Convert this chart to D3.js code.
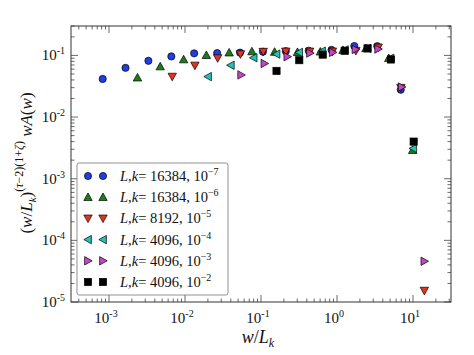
<!DOCTYPE html>
<html><head><meta charset="utf-8">
<script src="https://cdn.jsdelivr.net/npm/d3@7/dist/d3.min.js"></script>
<style>body{margin:0;background:#fff}svg{display:block}text{font-family:"Liberation Serif","DejaVu Serif",serif;fill:#111}</style>
</head><body><svg id="c" width="474" height="355"></svg>
<script>
// ---- data ----
const seriesLabels = ["16384, 10", "16384, 10", "8192, 10", "4096, 10", "4096, 10", "4096, 10"];
const seriesExp = ["−7", "−6", "−5", "−4", "−3", "−2"];
const xTickExps = [-3, -2, -1, 0, 1];
const yTickExps = [-5, -4, -3, -2, -1];

const blueX = [8.26e-4, 1.65e-3, 3.30e-3, 6.61e-3, 1.32e-2, 2.65e-2, 5.30e-2, 0.106, 0.212, 0.424, 0.847, 1.69, 3.39, 6.9];
const blueY = [0.0415, 0.0628, 0.0818, 0.0964, 0.108, 0.109, 0.111, 0.115, 0.117, 0.119, 0.123, 0.142, 0.141, 0.0277];
const greenX = [2.37e-3, 4.72e-3, 9.59e-3, 1.91e-2, 3.81e-2, 7.59e-2, 0.151, 0.302, 0.603, 1.20, 2.40, 4.79, 9.9];
const greenY = [0.0436, 0.0661, 0.0859, 0.101, 0.111, 0.116, 0.114, 0.113, 0.115, 0.122, 0.130, 0.090, 0.00291];
const redX = [6.79e-3, 1.35e-2, 2.69e-2, 5.36e-2, 0.107, 0.212, 0.437, 0.871, 1.77, 3.48, 6.92, 14.1];
const redY = [0.0453, 0.0686, 0.0904, 0.105, 0.115, 0.116, 0.116, 0.116, 0.119, 0.135, 0.0299, 1.53e-5];
const cyanX = [2.01e-2, 4.01e-2, 8.0e-2, 0.160, 0.318, 0.635, 1.27, 2.53, 5.05, 10.07];
const cyanY = [0.0453, 0.0693, 0.0916, 0.105, 0.112, 0.117, 0.123, 0.130, 0.090, 0.0031];
const magentaX = [5.48e-2, 0.111, 0.222, 0.441, 0.879, 1.75, 3.48, 7.10, 14.1];
const magentaY = [0.0483, 0.0740, 0.0953, 0.109, 0.112, 0.125, 0.127, 0.0307, 4.58e-5];
const blackX = [0.160, 0.319, 0.649, 1.26, 2.52, 5.13, 10.2];
const blackY = [0.0561, 0.0837, 0.103, 0.119, 0.130, 0.0859, 0.0040];

const series = [
  {x: blueX, y: blueY, color: "#1f3ee6", shape: "circle"},
  {x: greenX, y: greenY, color: "#1b7d1b", shape: "up"},
  {x: redX, y: redY, color: "#e8321e", shape: "down"},
  {x: cyanX, y: cyanY, color: "#22c2b4", shape: "left"},
  {x: magentaX, y: magentaY, color: "#c545c8", shape: "right"},
  {x: blackX, y: blackY, color: "#000000", shape: "square"}
];

// ---- layout ----
const L = 71, R = 451, T = 26, B = 302;
const svg = d3.select("#c");
const x = d3.scaleLog().domain([Math.pow(10, -3.5), Math.pow(10, 1.5)]).range([L, R]);
const y = d3.scaleLog().domain([1e-5, 0.3]).range([B, T]);

function expText(e) { return e < 0 ? "-" + Math.abs(e) : String(e); }

// ticks (inward, all sides)
function minorTicks(scale) {
  const [a, b] = scale.domain();
  const out = [];
  for (let e = Math.floor(Math.log10(a)); e <= Math.ceil(Math.log10(b)); e++) {
    for (let m = 1; m <= 9; m++) {
      const v = m * Math.pow(10, e);
      if (v >= a * 0.9999 && v <= b * 1.0001) out.push({v, major: m === 1});
    }
  }
  return out;
}
const tg = svg.append("g").attr("stroke", "#444").attr("stroke-width", 0.8);
minorTicks(x).forEach(t => {
  const px = x(t.v), len = t.major ? 7 : 3.5;
  tg.append("line").attr("x1", px).attr("x2", px).attr("y1", B).attr("y2", B - len);
  tg.append("line").attr("x1", px).attr("x2", px).attr("y1", T).attr("y2", T + len);
});
minorTicks(y).forEach(t => {
  const py = y(t.v), len = t.major ? 7 : 3.5;
  tg.append("line").attr("y1", py).attr("y2", py).attr("x1", L).attr("x2", L + len);
  tg.append("line").attr("y1", py).attr("y2", py).attr("x1", R).attr("x2", R - len);
});
svg.append("rect").attr("x", L).attr("y", T).attr("width", R - L).attr("height", B - T)
  .attr("fill", "none").attr("stroke", "#333").attr("stroke-width", 1);

// tick labels
xTickExps.forEach(e => {
  const t = svg.append("text").attr("x", x(Math.pow(10, e)) - 3).attr("y", 323)
    .attr("text-anchor", "middle").attr("font-size", 15);
  t.append("tspan").text("10");
  t.append("tspan").attr("font-size", 10).attr("dy", -6).text(expText(e));
});
yTickExps.forEach(e => {
  const t = svg.append("text").attr("x", 65).attr("y", y(Math.pow(10, e)) + 5)
    .attr("text-anchor", "end").attr("font-size", 15);
  t.append("tspan").text("10");
  t.append("tspan").attr("font-size", 10).attr("dy", -6).text(expText(e));
});

// axis labels
const xl = svg.append("text").attr("x", 258).attr("y", 343).attr("text-anchor", "middle").attr("font-size", 18);
xl.append("tspan").attr("font-style", "italic").text("w");
xl.append("tspan").text("/");
xl.append("tspan").attr("font-style", "italic").text("L");
xl.append("tspan").attr("font-style", "italic").attr("font-size", 12).attr("dy", 4).text("k");

const yl = svg.append("text").attr("transform", "translate(32,163) rotate(-90)")
  .attr("text-anchor", "middle").attr("font-size", 17);
yl.append("tspan").text("(");
yl.append("tspan").attr("font-style", "italic").text("w");
yl.append("tspan").text("/");
yl.append("tspan").attr("font-style", "italic").text("L");
yl.append("tspan").attr("font-style", "italic").attr("font-size", 11).attr("dy", 4).text("k");
yl.append("tspan").attr("dy", -4).text(")");
yl.append("tspan").attr("font-size", 12).attr("dy", -9).text("(");
yl.append("tspan").attr("font-size", 12).attr("font-style", "italic").text("τ");
yl.append("tspan").attr("font-size", 12).text("−2)(1+");
yl.append("tspan").attr("font-size", 12).attr("font-style", "italic").text("ζ");
yl.append("tspan").attr("font-size", 12).text(")");
yl.append("tspan").attr("dy", 9).attr("font-style", "italic").text(" wA");
yl.append("tspan").text("(");
yl.append("tspan").attr("font-style", "italic").text("w");
yl.append("tspan").text(")");

// markers
function marker(g, shape, cx, cy, color) {
  const s = 4.2;
  let el;
  if (shape === "circle") el = g.append("circle").attr("cx", cx).attr("cy", cy).attr("r", 3.6);
  else if (shape === "square") el = g.append("rect").attr("x", cx - 3.6).attr("y", cy - 3.6).attr("width", 7.2).attr("height", 7.2);
  else {
    let pts;
    if (shape === "up") pts = [[0, -s], [s, s * 0.8], [-s, s * 0.8]];
    if (shape === "down") pts = [[0, s], [s, -s * 0.8], [-s, -s * 0.8]];
    if (shape === "left") pts = [[-s, 0], [s * 0.8, -s], [s * 0.8, s]];
    if (shape === "right") pts = [[s, 0], [-s * 0.8, -s], [-s * 0.8, s]];
    el = g.append("path").attr("d", "M" + pts.map(p => (cx + p[0]) + "," + (cy + p[1])).join("L") + "Z");
  }
  el.attr("fill", color).attr("stroke", "#000").attr("stroke-width", 0.7);
}
const mg = svg.append("g");
series.forEach(s => {
  s.x.forEach((xv, i) => marker(mg, s.shape, x(xv), y(s.y[i]), s.color));
});

// legend
const lg = svg.append("g");
lg.append("rect").attr("x", 77).attr("y", 163).attr("width", 151).attr("height", 132)
  .attr("fill", "#fff").attr("stroke", "#777").attr("stroke-width", 0.8).attr("rx", 2);
series.forEach((s, i) => {
  const ry = 176 + i * 21.2;
  marker(lg, s.shape, 88, ry, s.color);
  marker(lg, s.shape, 103, ry, s.color);
  const t = lg.append("text").attr("x", 120).attr("y", ry + 5).attr("font-size", 14.5);
  t.append("tspan").attr("font-style", "italic").text("L");
  t.append("tspan").text(",");
  t.append("tspan").attr("font-style", "italic").text("k");
  t.append("tspan").text("= " + seriesLabels[i]);
  t.append("tspan").attr("font-size", 10).attr("dy", -6).text(seriesExp[i]);
});
</script></body></html>
